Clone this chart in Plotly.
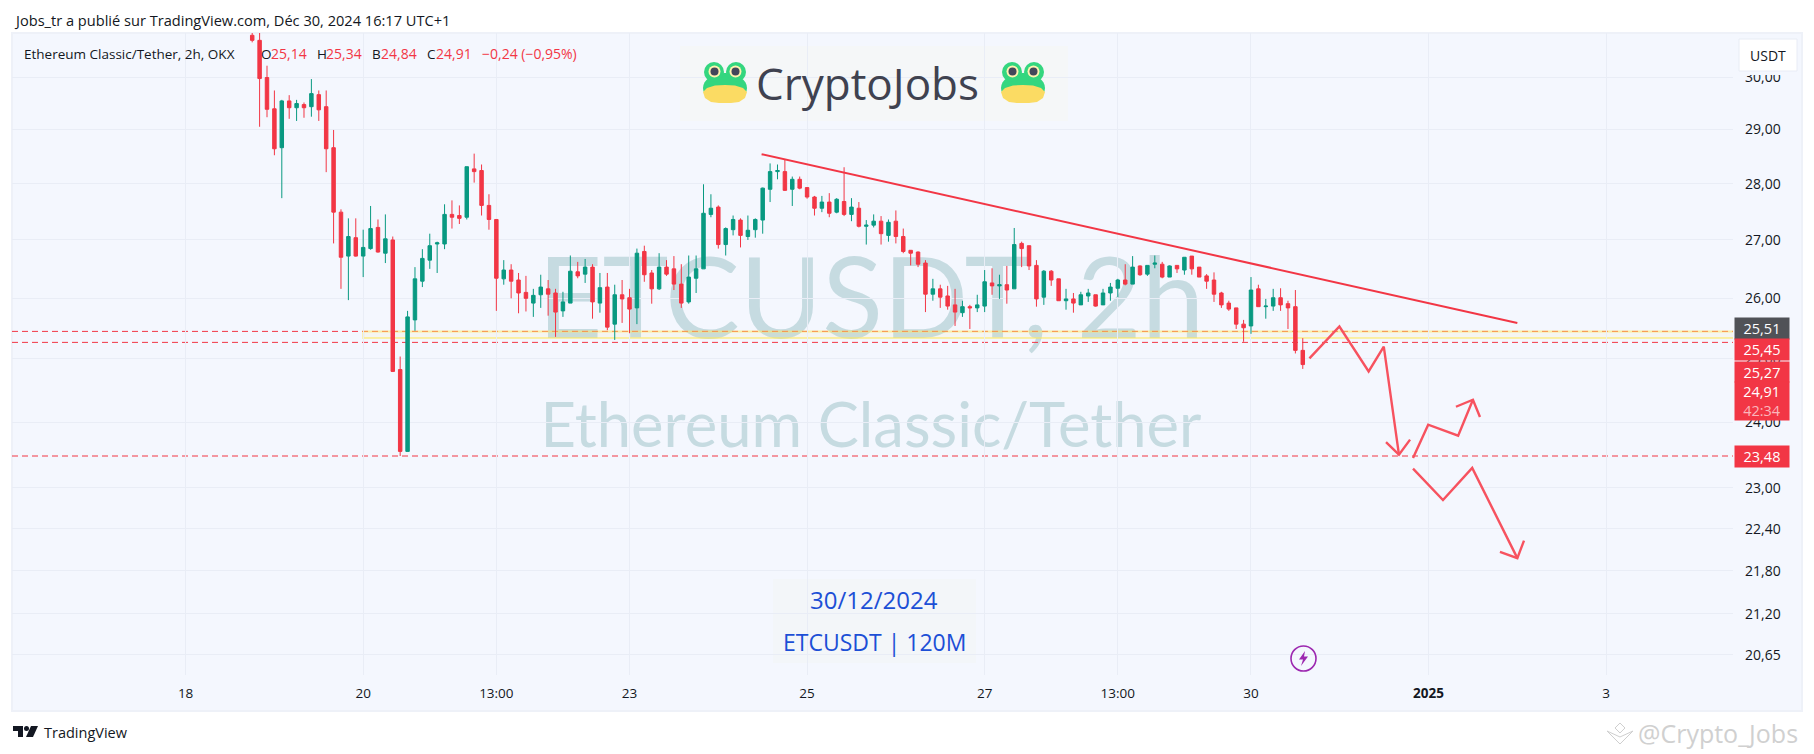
import math
import pandas as pd
import plotly.graph_objects as go

opens = [30.82,30.72,29.99,29.39,28.66,29.54,29.41,29.47,29.43,29.66,
29.43,28.66,27.49,26.72,27.04,26.72,26.85,27.22,26.77,27.0,
24.83,23.55,25.64,26.29,26.65,26.93,26.93,27.45,27.43,27.4,
28.27,28.24,27.61,27.36,26.33,26.48,26.31,26.1,25.92,26.06,
26.16,26.09,25.79,25.92,26.45,26.41,26.53,25.92,26.19,25.57,
26.06,26.01,25.84,26.8,26.43,26.16,26.53,26.5,26.24,25.94,
26.34,26.5,27.45,27.58,26.92,27.18,27.35,27.06,27.18,27.35,
27.9,28.22,28.22,27.9,28.08,27.93,27.76,27.56,27.67,27.49,
27.68,27.45,27.56,27.24,27.26,27.33,27.08,27.33,27.06,26.82,
26.79,26.6,26.07,26.16,26.04,25.89,25.76,25.86,25.84,25.87,
26.26,26.21,26.23,26.16,26.94,26.9,26.56,26.02,26.46,26.33,
25.96,25.99,25.89,26.04,26.06,25.89,26.09,26.17,26.31,26.24,
26.55,26.41,26.58,26.58,26.36,26.56,26.48,26.72,26.53,26.38,
26.31,26.09,25.92,25.84,25.57,25.54,26.16,25.86,25.87,26.01,
25.91,25.86,25.14]
highs = [30.95,30.9,30.22,29.74,29.56,29.65,29.56,29.51,29.96,29.74,
29.74,28.99,27.54,27.38,27.38,27.18,27.6,27.36,27.45,27.06,
25.04,25.79,26.53,26.84,27.11,26.97,27.63,27.7,27.61,28.31,
28.55,28.35,27.81,27.36,26.65,26.58,26.43,26.38,26.16,26.4,
26.31,26.16,26.11,26.73,26.62,26.67,26.58,26.43,26.43,26.23,
26.31,26.16,26.85,26.9,26.48,26.77,26.65,26.72,26.58,26.73,
26.73,27.99,27.81,27.61,27.22,27.43,27.38,27.43,27.38,27.93,
28.37,28.35,28.44,28.13,28.13,27.93,27.78,27.78,27.83,27.74,
28.3,27.74,27.67,27.35,27.45,27.42,27.36,27.52,27.2,26.82,
26.8,26.65,26.33,26.23,26.21,26.16,25.96,25.89,26.06,26.48,
26.51,26.4,26.55,27.21,26.97,26.9,26.65,26.48,26.48,26.33,
26.16,26.09,26.11,26.16,26.06,26.16,26.26,26.33,26.58,26.72,
26.56,26.56,26.73,26.62,26.56,26.56,26.7,26.72,26.53,26.41,
26.44,26.11,25.96,25.84,25.64,26.36,26.23,25.99,26.16,26.17,
25.96,26.14,25.34]
lows = [30.68,29.05,29.23,28.52,27.74,29.2,29.16,29.22,29.24,29.16,
28.21,26.94,26.16,25.97,26.71,26.36,26.83,26.78,26.6,24.79,
23.48,23.55,25.46,26.19,26.5,26.43,26.84,27.2,27.28,27.36,
28.02,27.43,27.18,25.79,26.23,26.0,25.75,25.78,25.69,25.84,
25.71,25.36,25.69,25.92,26.34,26.26,25.66,25.76,25.47,25.31,
25.59,25.42,25.57,26.28,25.91,26.14,26.38,26.14,25.84,25.91,
26.09,26.5,27.4,26.85,26.73,27.08,26.87,27.0,27.04,27.11,
27.67,28.08,27.87,27.6,27.9,27.73,27.43,27.49,27.4,27.47,
27.42,27.33,27.22,26.92,27.22,26.92,26.97,26.94,26.77,26.56,
26.53,25.77,25.96,25.84,25.81,25.54,25.69,25.49,25.77,25.77,
26.06,25.99,25.91,26.16,26.53,26.48,25.86,25.89,26.21,25.96,
25.81,25.76,25.89,25.94,25.86,25.89,25.96,26.02,26.22,26.24,
26.38,26.38,26.51,26.34,26.36,26.43,26.4,26.4,26.36,26.16,
25.94,25.84,25.79,25.49,25.28,25.41,25.86,25.66,25.79,25.79,
25.49,25.09,24.84]
closes = [30.72,29.97,29.38,28.64,29.54,29.41,29.49,29.41,29.68,29.37,
28.64,27.49,26.7,27.06,26.72,26.87,27.2,26.79,27.02,24.8,
23.55,25.69,26.33,26.68,26.9,26.95,27.45,27.4,27.38,28.31,
28.22,27.61,27.36,26.34,26.48,26.29,26.09,26.0,26.05,26.19,
26.07,25.77,25.94,26.46,26.38,26.53,25.94,26.18,25.52,26.06,
25.99,25.82,26.77,26.4,26.16,26.53,26.41,26.24,25.92,26.36,
26.5,27.47,27.56,26.92,27.2,27.36,27.08,27.17,27.36,27.92,
28.22,28.24,27.88,28.08,27.92,27.76,27.56,27.67,27.47,27.72,
27.45,27.58,27.24,27.26,27.33,27.11,27.31,27.06,26.8,26.77,
26.58,26.07,26.16,26.02,25.87,25.77,25.86,25.84,25.89,26.28,
26.21,26.23,26.14,26.92,26.85,26.55,25.99,26.46,26.31,25.96,
25.99,25.92,26.06,26.09,25.87,26.09,26.19,26.31,26.24,26.53,
26.4,26.56,26.6,26.36,26.55,26.5,26.7,26.5,26.36,26.29,
26.07,25.89,25.82,25.57,25.51,26.14,25.86,25.87,26.01,25.89,
25.84,25.14,24.91]
times = pd.date_range(end="2024-12-30 15:00", periods=len(opens), freq="2h")

price_ticks = [30, 29, 28, 27, 26, 25, 24, 23, 22.4, 21.8, 21.2, 20.65]
price_labels = ["30,00","29,00","28,00","27,00","26,00","25,00","24,00","23,00","22,40","21,80","21,20","20,65"]
time_ticks = ["2024-12-18 01:00","2024-12-20 01:00","2024-12-21 13:00","2024-12-23 01:00","2024-12-25 01:00",
              "2024-12-27 01:00","2024-12-28 13:00","2024-12-30 01:00","2025-01-01 01:00","2025-01-03 01:00"]
time_labels = ["18","20","13:00","23","25","27","13:00","30","<b>2025</b>","3"]

level_prices = [25.45, 25.27, 23.48]
zone_top, zone_bottom = 25.45, 25.34
trend_x = ["2024-12-24 12:42", "2025-01-02 01:00"]
trend_y = [28.54, 25.59]

arrow1_x = ["2024-12-30 16:48","2024-12-31 00:54","2024-12-31 08:48","2024-12-31 12:54","2024-12-31 17:00",None,
            "2024-12-31 13:30","2024-12-31 17:00","2024-12-31 20:00"]
arrow1_y = [25.01,25.53,24.80,25.20,23.50,None,23.69,23.50,23.73]
arrow2_x = ["2024-12-31 20:48","2025-01-01 00:54","2025-01-01 09:00","2025-01-01 13:00",None,
            "2025-01-01 08:24","2025-01-01 13:00","2025-01-01 14:54"]
arrow2_y = [23.45,23.96,23.79,24.35,None,24.24,24.35,24.08]
arrow3_x = ["2024-12-31 20:48","2025-01-01 04:54","2025-01-01 12:48","2025-01-02 01:00",None,
            "2025-01-01 20:18","2025-01-02 01:00","2025-01-02 02:48"]
arrow3_y = [23.29,22.82,23.30,21.98,None,22.07,21.98,22.23]

FONT = "Open Sans"
UP, DOWN = "#089981", "#F23645"
GRID = "#E9EDF6"
TEXT = "#131722"
PANE = "#F4F7FE"
X_START, X_END = "2024-12-16 02:04", "2025-01-04 11:18"
Y_TOP, Y_BOTTOM = 30.866, 20.38

L, T, R, B = 12, 33, 1733, 675
def px(x): return (x - L) / (R - L)
def py(y): return (B - y) / (B - T)

fig = go.Figure()
fig.add_trace(go.Candlestick(
    x=times, open=opens, high=highs, low=lows, close=closes,
    increasing=dict(line=dict(color=UP, width=1), fillcolor=UP),
    decreasing=dict(line=dict(color=DOWN, width=1), fillcolor=DOWN),
    hoverinfo="skip", showlegend=False))
fig.add_trace(go.Scatter(x=trend_x, y=trend_y, mode="lines", line=dict(color=DOWN, width=2),
                         hoverinfo="skip", showlegend=False))
for ax_x, ax_y in [(arrow1_x, arrow1_y), (arrow2_x, arrow2_y), (arrow3_x, arrow3_y)]:
    fig.add_trace(go.Scatter(x=ax_x, y=ax_y, mode="lines", line=dict(color="#F7525F", width=2.4),
                             hoverinfo="skip", showlegend=False, connectgaps=False))

shapes = []
def rect(x0, y0, x1, y1, fill, line=None, lw=0, layer="below", shape_type="rect", **kw):
    shapes.append(dict(type=shape_type, xref="paper", yref="paper", x0=px(x0), x1=px(x1), y0=py(y0), y1=py(y1),
                       fillcolor=fill, line=dict(color=line or fill, width=lw), layer=layer, **kw))
def poly(points, fill, layer="above", line=None, lw=0):
    d = "M" + " L".join(f"{px(a):.5f},{py(b):.5f}" for a, b in points) + " Z"
    shapes.append(dict(type="path", path=d, xref="paper", yref="paper", fillcolor=fill,
                       line=dict(color=line or fill, width=lw), layer=layer))

# chart pane
rect(12, 33, 1802, 711, PANE, "#EEF1F8", 2)

# big watermark text, drawn underneath the candles
def watermark(text, x0, y0, x1, y1, size):
    shapes.append(dict(type="rect", xref="paper", yref="paper", x0=px(x0), x1=px(x1), y0=py(y0), y1=py(y1),
                       fillcolor="rgba(0,0,0,0)", line=dict(width=0), layer="below",
                       label=dict(text=text, font=dict(family="Lato", size=size, color="#C6DBE1"),
                                  textposition="middle center")))
watermark("ETCUSDT, 2h", 496, 238, 1246, 348, 112)
watermark("Ethereum Classic/Tether", 496, 385, 1246, 460, 61.5)

# logo + date boxes
rect(680, 46, 1068, 121, "#F5F7F8")
rect(773, 579, 976, 663, "#F3F6F9")

# levels (under candles)
for lp in level_prices:
    shapes.append(dict(type="line", xref="x", yref="y", x0=X_START, x1=X_END, y0=lp, y1=lp,
                       line=dict(color=DOWN, width=1, dash="6px,4px"), layer="below"))
shapes.append(dict(type="rect", xref="x", yref="y", x0="2024-12-20 01:00", x1="2025-01-10 00:00",
                   y0=zone_bottom, y1=zone_top, fillcolor="rgba(255,235,120,0.10)",
                   line=dict(color="rgba(255,232,80,0.5)", width=2), layer="below"))

# frogs
for cx in (725, 1023):
    rect(cx-22, 73, cx+22, 103, "#34D67F", layer="above", shape_type="circle")
    rect(cx-21, 62, cx-1, 82, "#34D67F", layer="above", shape_type="circle")
    rect(cx+1, 62, cx+21, 82, "#34D67F", layer="above", shape_type="circle")
    poly([(cx-22, 92), (cx-18, 88), (cx-10, 85.5), (cx, 85), (cx+10, 85.5), (cx+18, 88), (cx+22, 92),
          (cx+20, 98), (cx+14, 102), (cx+6, 103), (cx-6, 103), (cx-14, 102), (cx-20, 98)], "#FBDB63")
    for ex in (cx-10.5, cx+10.5):
        rect(ex-6, 65.5, ex+6, 77.5, "#FFF3B0", layer="above", shape_type="circle")
        rect(ex-4, 67.5, ex+4, 75.5, "#43475A", layer="above", shape_type="circle")

# USDT button, with the pane colour below it masking the top of the 30,00 label
rect(1735, 35, 1800, 75, PANE, layer="above")
rect(1739, 39, 1797, 71, "#FFFFFF", "#E8ECF5", 1, layer="above")

# bolt badge
rect(1291, 646, 1316, 671, "rgba(255,255,255,0)", "#9C27B0", 1.6, layer="above", shape_type="circle")
poly([(1305, 651), (1299, 659.5), (1303, 659.5), (1301, 666), (1308, 656.5), (1304, 656.5)], "#9C27B0")

# TradingView logo
poly([(13, 726), (23, 726), (23, 737), (18, 737), (18, 731), (13, 731)], "#131722")
rect(24, 726, 29, 731, "#131722", layer="above", shape_type="circle")
poly([(31, 726), (38, 726), (33, 737), (26, 737)], "#131722")

# faint diamond mark beside the credit
poly([(1607, 731), (1620, 744), (1633, 731), (1620, 737)], "rgba(0,0,0,0)", line="#CFCFCF", lw=1)
poly([(1620, 723), (1625, 728), (1620, 733), (1615, 728)], "rgba(0,0,0,0)", line="#CFCFCF", lw=1)

ann = []
def note(text, x, y, size=13, color=TEXT, anchor="left", family=FONT, **kw):
    ann.append(dict(text=text, xref="paper", yref="paper", x=px(x), y=py(y), xanchor=anchor, yanchor="middle",
                    showarrow=False, font=dict(family=family, size=size, color=color), borderpad=0, **kw))

note("Jobs_tr a publié sur TradingView.com, Déc 30, 2024 16:17 UTC+1", 13, 20, 14.6)
note("Ethereum Classic/Tether, 2h, OKX", 23, 54, 13.5)
for label, lx, value, vx in [("O", 259.5, "25,14", 270), ("H", 315.5, "25,34", 325),
                             ("B", 371, "24,84", 380), ("C", 425.5, "24,91", 435)]:
    note(label, lx, 54, 13.5)
    note(value, vx, 54, 14, DOWN)
note("−0,24 (−0,95%)", 481, 54, 14, DOWN)

note("CryptoJobs", 867, 83, 44, "#3F4250", "center")
note("30/12/2024", 874, 599, 24, "#1C4FD6", "center")
note("ETCUSDT | 120M", 874, 642, 23, "#1C4FD6", "center")
note("USDT", 1768, 55, 14, TEXT, "center")
note("TradingView", 43, 733, 14.5, TEXT)
note("@Crypto_Jobs", 1637, 733, 25, "#D0D0D0")

def tag(text, y, h, bg=DOWN):
    ann.append(dict(text=text, xref="paper", yref="paper", x=px(1762), y=py(y), xanchor="center", yanchor="middle",
                    showarrow=False, font=dict(family=FONT, size=14.5, color="#FFFFFF"),
                    bgcolor=bg, width=54, height=h, borderpad=0, align="center"))
tag("25,51", 328.5, 21, "#505257")
tag("25,45", 349.5, 21)
tag("25,27", 372, 20)
tag('24,91<br><span style="color:#FAB6BC">42:34</span>', 401, 38)
tag("23,48", 456.5, 21)

fig.update_layout(
    width=1814, height=754, autosize=False,
    margin=dict(l=L, r=1814-R, t=T, b=754-B, pad=0),
    paper_bgcolor="#FFFFFF", plot_bgcolor="rgba(0,0,0,0)",
    shapes=shapes, annotations=ann, showlegend=False, boxgap=0.33,
    xaxis=dict(type="date", range=[X_START, X_END], rangeslider=dict(visible=False),
               tickmode="array", tickvals=time_ticks, ticktext=time_labels,
               showgrid=True, gridcolor=GRID, gridwidth=1, zeroline=False, showline=False, ticks="",
               tickfont=dict(family=FONT, size=13.5, color=TEXT), ticklabelstandoff=8),
    yaxis=dict(type="log", side="right", range=[math.log10(Y_BOTTOM), math.log10(Y_TOP)],
               tickmode="array", tickvals=price_ticks, ticktext=price_labels,
               showgrid=True, gridcolor=GRID, gridwidth=1, zeroline=False, showline=False, ticks="",
               tickfont=dict(family=FONT, size=14, color=TEXT), ticklabelstandoff=11),
)
fig.write_html("out.html", config={"displayModeBar": False}, post_script="document.body.style.margin='0';")
